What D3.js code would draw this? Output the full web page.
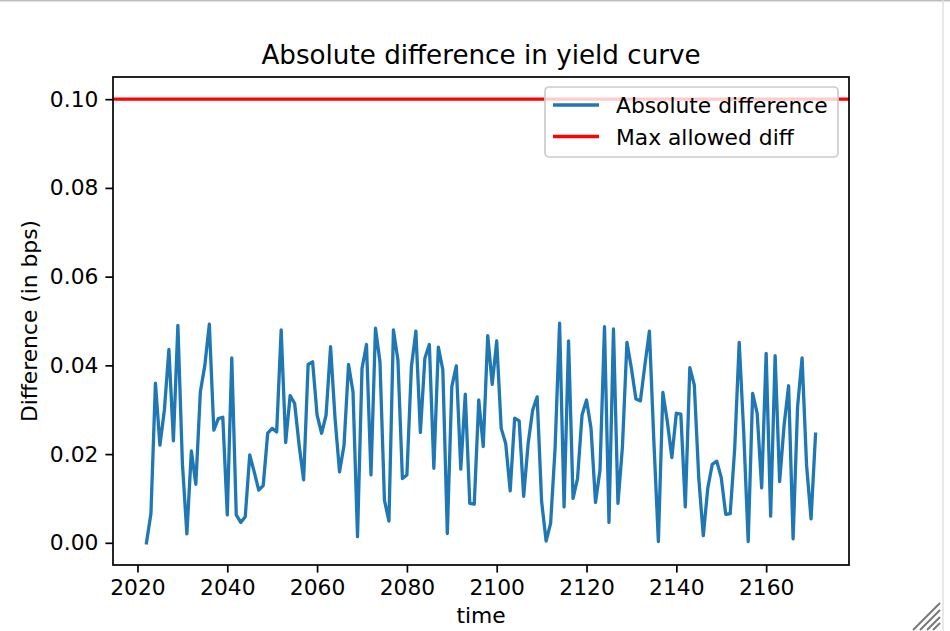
<!DOCTYPE html>
<html>
<head>
<meta charset="utf-8">
<script src="https://cdn.jsdelivr.net/npm/d3@7"></script>
<style>
  body { margin: 0; background: #fff; }
  svg { display: block; font-family: "DejaVu Sans", sans-serif; }
</style>
</head>
<body>
<script>
// yearly points, 2022 .. 2171
const startYear = 2022;
const diffValues = [
  0.0000, 0.0066, 0.0360, 0.0220, 0.0300, 0.0436, 0.0230, 0.0490, 0.0180, 0.0020,
  0.0207, 0.0132, 0.0340, 0.0400, 0.0493, 0.0254, 0.0280, 0.0283, 0.0063, 0.0417,
  0.0063, 0.0046, 0.0059, 0.0198, 0.0160, 0.0119, 0.0129, 0.0247, 0.0258, 0.0250,
  0.0480, 0.0226, 0.0332, 0.0314, 0.0220, 0.0142, 0.0402, 0.0408, 0.0288, 0.0247,
  0.0288, 0.0442, 0.0280, 0.0160, 0.0220, 0.0402, 0.0340, 0.0014, 0.0393, 0.0447,
  0.0153, 0.0484, 0.0408, 0.0096, 0.0049, 0.0480, 0.0412, 0.0145, 0.0153, 0.0397,
  0.0477, 0.0249, 0.0416, 0.0447, 0.0168, 0.0441, 0.0390, 0.0021, 0.0352, 0.0399,
  0.0166, 0.0335, 0.0089, 0.0087, 0.0322, 0.0217, 0.0467, 0.0357, 0.0455, 0.0258,
  0.0224, 0.0117, 0.0281, 0.0275, 0.0105, 0.0224, 0.0299, 0.0329, 0.0093, 0.0004,
  0.0044, 0.0213, 0.0495, 0.0081, 0.0455, 0.0100, 0.0145, 0.0288, 0.0322, 0.0258,
  0.0091, 0.0164, 0.0487, 0.0046, 0.0482, 0.0089, 0.0217, 0.0452, 0.0393, 0.0324,
  0.0320, 0.0401, 0.0477, 0.0228, 0.0003, 0.0339, 0.0273, 0.0192, 0.0292, 0.0290,
  0.0081, 0.0395, 0.0356, 0.0145, 0.0016, 0.0123, 0.0177, 0.0184, 0.0147, 0.0064,
  0.0066, 0.0213, 0.0452, 0.0250, 0.0003, 0.0337, 0.0292, 0.0124, 0.0427, 0.0060,
  0.0422, 0.0138, 0.0265, 0.0354, 0.0009, 0.0307, 0.0417, 0.0175, 0.0054, 0.0245
];
const years = diffValues.map((v, i) => startYear + i);
const maxAllowed = 0.1;
const xTicks = [2020, 2040, 2060, 2080, 2100, 2120, 2140, 2160];
const yTicks = [0.00, 0.02, 0.04, 0.06, 0.08, 0.10];
const legendLabels = ["Absolute difference", "Max allowed diff"];
const legendColors = ["#1f77b4", "red"];

const width = 950;
const height = 631;
const margin = { top: 77, right: 101, bottom: 66, left: 113 };
const fontSize = 21.8;

const svg = d3.select('body').append('svg')
    .attr('width', width)
    .attr('height', height);

// notebook frame bits
svg.append('line').attr('x1', 0).attr('x2', width).attr('y1', 0.5).attr('y2', 0.5)
    .attr('stroke', '#bdbdbd').attr('stroke-width', 2);
svg.append('line').attr('x1', 943).attr('x2', 943).attr('y1', 0).attr('y2', height)
    .attr('stroke', '#e0e0e0').attr('stroke-width', 1.5);
[603, 610, 617, 623].forEach(y0 => {
    svg.append('line')
        .attr('x1', 940).attr('y1', y0)
        .attr('x2', 940 - (630 - y0)).attr('y2', 630)
        .attr('stroke', '#777').attr('stroke-width', 2);
});

const xScale = d3.scaleLinear()
    .domain([2014.55, 2178.45])
    .range([margin.left, width - margin.right]);
const yScale = d3.scaleLinear()
    .domain([-0.005, 0.105])
    .range([height - margin.bottom, margin.top]);

const plot = svg.append('g');

plot.append('line')
    .attr('x1', xScale.range()[0]).attr('x2', xScale.range()[1])
    .attr('y1', yScale(maxAllowed)).attr('y2', yScale(maxAllowed))
    .attr('stroke', 'red').attr('stroke-width', 3.3);

const line = d3.line()
    .x((d, i) => xScale(years[i]))
    .y(d => yScale(d));

plot.append('path')
    .datum(diffValues)
    .attr('fill', 'none')
    .attr('stroke', '#1f77b4')
    .attr('stroke-width', 3.3)
    .attr('stroke-linejoin', 'round')
    .attr('stroke-linecap', 'square')
    .attr('d', line);

// axes
const xAxis = d3.axisBottom(xScale).tickValues(xTicks).tickFormat(d3.format('d'))
    .tickSizeInner(7.6).tickSizeOuter(0).tickPadding(7);
const yAxis = d3.axisLeft(yScale).tickValues(yTicks).tickFormat(d3.format('.2f'))
    .tickSizeInner(7.6).tickSizeOuter(0).tickPadding(7);

const gx = svg.append('g')
    .attr('transform', `translate(0, ${height - margin.bottom})`)
    .call(xAxis);
const gy = svg.append('g')
    .attr('transform', `translate(${margin.left}, 0)`)
    .call(yAxis);

[gx, gy].forEach(g => {
    g.select('.domain').remove();
    g.selectAll('.tick line').attr('stroke', '#000').attr('stroke-width', 1.7);
    g.selectAll('.tick text').attr('fill', '#000')
        .style('font-size', fontSize + 'px')
        .style('font-family', '"DejaVu Sans", sans-serif');
});

// frame
svg.append('rect')
    .attr('x', margin.left).attr('y', margin.top)
    .attr('width', width - margin.left - margin.right)
    .attr('height', height - margin.top - margin.bottom)
    .attr('fill', 'none').attr('stroke', '#000').attr('stroke-width', 1.7);

// title and labels
svg.append('text')
    .attr('x', (margin.left + width - margin.right) / 2)
    .attr('y', 64)
    .attr('text-anchor', 'middle')
    .style('font-size', '26.2px')
    .text('Absolute difference in yield curve');

svg.append('text')
    .attr('x', (margin.left + width - margin.right) / 2)
    .attr('y', 623)
    .attr('text-anchor', 'middle')
    .style('font-size', fontSize + 'px')
    .text('time');

svg.append('text')
    .attr('transform', `translate(37, ${(margin.top + height - margin.bottom) / 2}) rotate(-90)`)
    .attr('text-anchor', 'middle')
    .style('font-size', fontSize + 'px')
    .text('Difference (in bps)');

// legend
const legend = svg.append('g').attr('transform', 'translate(545, 87)');
legend.append('rect')
    .attr('width', 293).attr('height', 70)
    .attr('rx', 4).attr('ry', 4)
    .attr('fill', 'white').attr('fill-opacity', 0.8)
    .attr('stroke', '#cccccc').attr('stroke-width', 1.7);

legendLabels.forEach((label, i) => {
    const y = 18 + i * 31.5;
    legend.append('line')
        .attr('x1', 8).attr('x2', 54)
        .attr('y1', y).attr('y2', y)
        .attr('stroke', legendColors[i]).attr('stroke-width', 3.3);
    legend.append('text')
        .attr('x', 71).attr('y', y + 8)
        .style('font-size', fontSize + 'px')
        .text(label);
});
</script>
</body>
</html>
